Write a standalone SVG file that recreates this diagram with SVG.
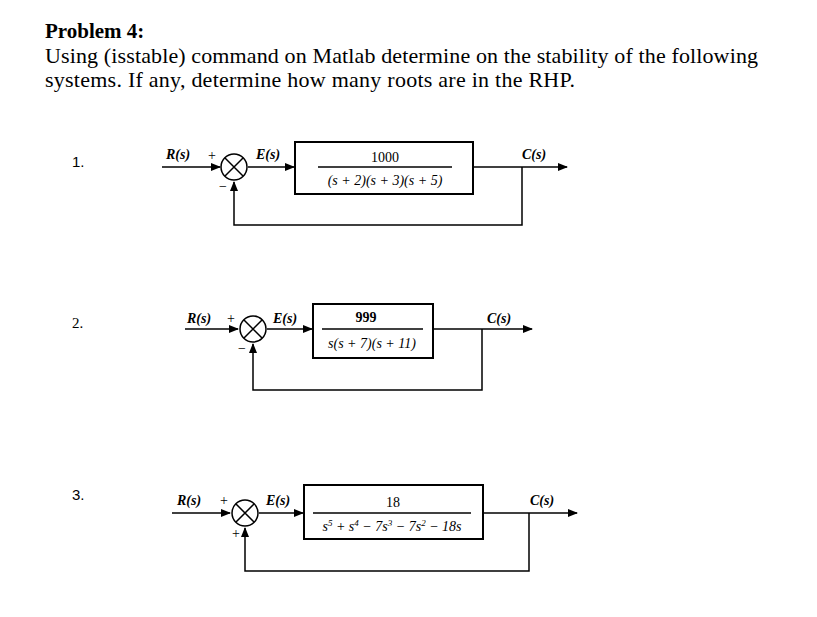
<svg xmlns="http://www.w3.org/2000/svg" width="817" height="617" viewBox="0 0 817 617">
<style>
.t{font-family:"Liberation Serif",serif;fill:#000}
.ln{stroke:#000;stroke-width:1.5;fill:none}
.bx{stroke:#000;stroke-width:2;fill:#fff}
.lb{font-family:"Liberation Serif",serif;font-style:italic;font-weight:bold;font-size:14px}
.fr{font-family:"Liberation Serif",serif;font-size:14px;text-anchor:middle}
.n{font-family:"Liberation Sans",sans-serif;font-size:15px}
</style>
<defs><marker id="a" markerWidth="10" markerHeight="8" refX="9" refY="4" orient="auto" markerUnits="userSpaceOnUse"><path d="M0,0L10,4L0,8z"/></marker></defs>
<rect width="817" height="617" fill="#fff"/>
<text class="t" x="45" y="38" font-size="21" font-weight="bold">Problem 4:</text>
<text class="t" x="45" y="63" font-size="22" textLength="713">Using (isstable) command on Matlab determine on the stability of the following</text>
<text class="t" x="45" y="87" font-size="22" textLength="530">systems. If any, determine how many roots are in the RHP.</text>
<text class="n" x="72" y="167">1.</text>
<text class="t" x="72" y="328" font-size="15">2.</text>
<text class="n" x="72" y="500">3.</text>
<g id="connectors">
<path class="ln" d="M162,167H220" marker-end="url(#a)"/>
<path class="ln" d="M248,167H294" marker-end="url(#a)"/>
<path class="ln" d="M473,167H567" marker-end="url(#a)"/>
<path class="ln" d="M522,167V225H234V182" marker-end="url(#a)"/>
<path class="ln" d="M185,329H238" marker-end="url(#a)"/>
<path class="ln" d="M267,329H312" marker-end="url(#a)"/>
<path class="ln" d="M433,329H532" marker-end="url(#a)"/>
<path class="ln" d="M482,329V390H253V344" marker-end="url(#a)"/>
<path class="ln" d="M172,513H230" marker-end="url(#a)"/>
<path class="ln" d="M259,513H303" marker-end="url(#a)"/>
<path class="ln" d="M483,513H577" marker-end="url(#a)"/>
<path class="ln" d="M529,513V571H245V528" marker-end="url(#a)"/>
</g>
<g id="sum1"><circle class="ln" cx="234" cy="167" r="13"/><path class="ln" d="M225,158L243,176M243,158L225,176"/>
<text class="lb" x="166" y="159">R(s)</text><text class="fr" x="212" y="160" font-size="13">+</text><text class="fr" x="223" y="191">−</text><text class="lb" x="256" y="159">E(s)</text><text class="lb" x="522" y="159">C(s)</text></g>
<g id="block1"><rect class="bx" x="295" y="142" width="178" height="52"/><path class="ln" d="M318,167H452" stroke-width="1"/><text class="fr" x="385" y="162">1000</text><text class="fr" x="385" y="185" font-style="italic">(s + 2)(s + 3)(s + 5)</text></g>
<g id="sum2"><circle class="ln" cx="253" cy="329" r="13"/><path class="ln" d="M244,320L262,338M262,320L244,338"/>
<text class="lb" x="187" y="323">R(s)</text><text class="fr" x="231" y="323" font-size="13">+</text><text class="fr" x="242" y="353">−</text><text class="lb" x="273" y="323">E(s)</text><text class="lb" x="487" y="323">C(s)</text></g>
<g id="block2"><rect class="bx" x="313" y="304" width="120" height="54"/><path class="ln" d="M322,329H423" stroke-width="1"/><text class="fr" x="366" y="322" font-size="9" font-weight="bold">999</text><text class="fr" x="372" y="348" font-style="italic">s(s + 7)(s + 11)</text></g>
<g id="sum3"><circle class="ln" cx="245" cy="513" r="13"/><path class="ln" d="M236,504L254,522M254,504L236,522"/>
<text class="lb" x="177" y="505">R(s)</text><text class="fr" x="224" y="505" font-size="13">+</text><text class="fr" x="236" y="538" font-size="13">+</text><text class="lb" x="266" y="505">E(s)</text><text class="lb" x="530" y="505">C(s)</text></g>
<g id="block3"><rect class="bx" x="304" y="485" width="179" height="54"/><path class="ln" d="M313,513H471" stroke-width="1"/><text class="fr" x="393" y="507">18</text><text class="fr" x="392" y="531" font-style="italic">s<tspan font-size="9" dy="-5">5</tspan><tspan dy="5"> + s</tspan><tspan font-size="9" dy="-5">4</tspan><tspan dy="5"> − 7s</tspan><tspan font-size="9" dy="-5">3</tspan><tspan dy="5"> − 7s</tspan><tspan font-size="9" dy="-5">2</tspan><tspan dy="5"> − 18s</tspan></text></g>
</svg>
